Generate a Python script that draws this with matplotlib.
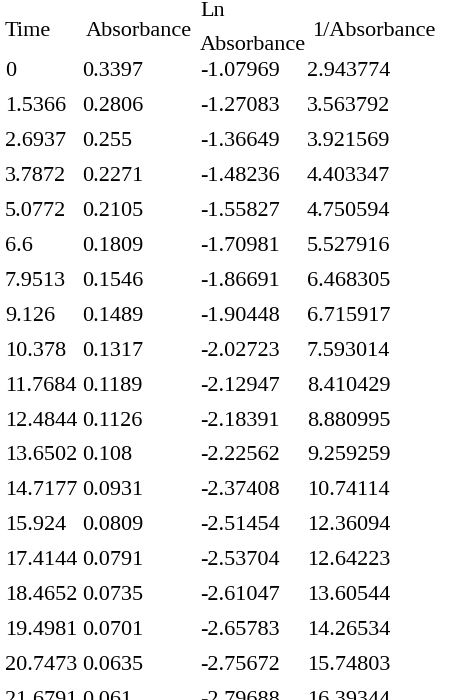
import matplotlib
matplotlib.use("Agg")
import matplotlib.pyplot as plt

# === DATA ===
time = ["0", "1.5366", "2.6937", "3.7872", "5.0772", "6.6", "7.9513", "9.126",
        "10.378", "11.7684", "12.4844", "13.6502", "14.7177", "15.924",
        "17.4144", "18.4652", "19.4981", "20.7473", "21.6791"]
absorbance = ["0.3397", "0.2806", "0.255", "0.2271", "0.2105", "0.1809", "0.1546",
              "0.1489", "0.1317", "0.1189", "0.1126", "0.108", "0.0931", "0.0809",
              "0.0791", "0.0735", "0.0701", "0.0635", "0.061"]
ln_abs = ["-1.07969", "-1.27083", "-1.36649", "-1.48236", "-1.55827", "-1.70981",
          "-1.86691", "-1.90448", "-2.02723", "-2.12947", "-2.18391", "-2.22562",
          "-2.37408", "-2.51454", "-2.53704", "-2.61047", "-2.65783", "-2.75672",
          "-2.79688"]
inv_abs = ["2.943774", "3.563792", "3.921569", "4.403347", "4.750594", "5.527916",
           "6.468305", "6.715917", "7.593014", "8.410429", "8.880995", "9.259259",
           "10.74114", "12.36094", "12.64223", "13.60544", "14.26534", "15.74803",
           "16.39344"]

W, H = 456, 700
fig = plt.figure(figsize=(W / 100, H / 100), dpi=100)
ax = fig.add_axes([0, 0, 1, 1])
ax.set_xlim(0, W)
ax.set_ylim(H, 0)
ax.axis("off")

style = dict(fontsize=16, family="Liberation Serif", color="black", va="center")

# header
ax.text(5, 31, "Time", **style)
ax.text(86, 31, "Absorbance", **style)
ax.text(200, 12, "Ln", **style)
ax.text(200, 45, "Absorbance", **style)
ax.text(312, 31, "1/Absorbance", **style)

cols_x = [5, 82, 200, 307]
for i, row in enumerate(zip(time, absorbance, ln_abs, inv_abs)):
    y = 72 + i * 34.9
    for x, val in zip(cols_x, row):
        ax.text(x, y, val, **style)

fig.savefig("out.png", dpi=100)
